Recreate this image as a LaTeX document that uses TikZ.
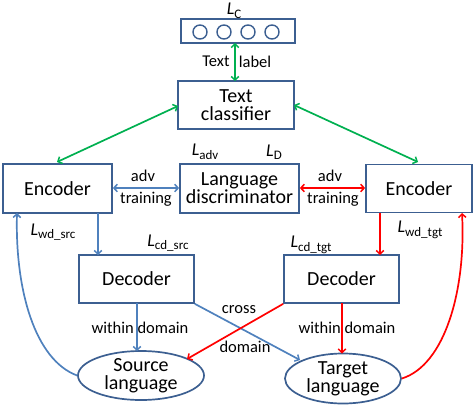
\documentclass[tikz,border=0pt]{standalone}
\usepackage{fontspec}
\setmainfont{Carlito}
\usetikzlibrary{arrows.meta,shapes.geometric}
\definecolor{boxc}{RGB}{60,95,145}
\definecolor{bluec}{RGB}{79,129,189}
\definecolor{greenc}{RGB}{0,176,80}
\definecolor{redc}{RGB}{255,0,0}
\newcommand{\Lsub}[1]{{\fontsize{18}{18}\selectfont\itshape L}{\fontsize{13}{13}\selectfont\raisebox{-3.5pt}{#1}}}
\tikzset{
  boxn/.style={draw=boxc,line width=1.7pt,rectangle,inner sep=0pt,align=center,font=\fontsize{20}{18}\selectfont},
  elln/.style={draw=boxc,line width=1.7pt,ellipse,inner sep=0pt,align=center,font=\fontsize{20}{18}\selectfont},
  lab/.style={inner sep=0pt,font=\fontsize{16.5}{16.5}\selectfont},
  lossl/.style={inner sep=0pt},
  tipc/.style={-{Straight Barb[length=3.5pt,width=7.5pt,line width=1.5pt]}},
  btip/.style={{Straight Barb[length=3.5pt,width=7.5pt,line width=1.5pt]}-{Straight Barb[length=3.5pt,width=7.5pt,line width=1.5pt]}},
  bl/.style={draw=bluec,line width=1.7pt},
  gr/.style={draw=greenc,line width=1.7pt},
  rd/.style={draw=redc,line width=1.7pt},
  circn/.style={draw=boxc,line width=1.4pt,circle,minimum size=14pt,inner sep=0pt}
}
\begin{document}
\begin{tikzpicture}[x=1pt,y=-1pt]
\useasboundingbox (0,0) rectangle (474,405);
% nodes
\node[boxn,minimum width=114pt,minimum height=24pt] (lc) at (238,31) {};
\node[circn] (c1) at (200,32) {};
\node[circn] (c2) at (224,32) {};
\node[circn] (c3) at (248,32) {};
\node[circn] (c4) at (272,32) {};
\node[lossl] (lcl) at (234,11) {\Lsub{C}};
\node[boxn,minimum width=116pt,minimum height=48pt] (tc) at (236,105) {Text\\classifier};
\node[boxn,minimum width=109pt,minimum height=49pt] (encl) at (57.5,188.5) {Encoder};
\node[boxn,minimum width=119pt,minimum height=49pt] (ld) at (239.5,188.5) {Language\\discriminator};
\node[boxn,minimum width=106pt,minimum height=48pt] (encr) at (419,188.5) {Encoder};
\node[boxn,minimum width=115pt,minimum height=48pt] (decl) at (136.5,279) {Decoder};
\node[boxn,minimum width=115pt,minimum height=48pt] (decr) at (341.5,279) {Decoder};
\node[elln,minimum width=126pt,minimum height=49pt] (src) at (141,375.5) {Source\\language};
\node[elln,minimum width=116pt,minimum height=50pt] (tgt) at (343,378.5) {Target\\language};
% loss labels
\node[lossl] (ladv) at (205,152) {\Lsub{adv}};
\node[lossl] (lD) at (274,152) {\Lsub{D}};
\node[lossl] (lwds) at (53,232) {\Lsub{wd\_src}};
\node[lossl] (lcds) at (168,243) {\Lsub{cd\_src}};
\node[lossl] (lcdt) at (311,245) {\Lsub{cd\_tgt}};
\node[lossl] (lwdt) at (420,230) {\Lsub{wd\_tgt}};
% text labels
\node[lab] (t1) at (216,61) {Text};
\node[lab] (t2) at (255,62) {label};
\node[lab] (a1) at (143,176) {adv};
\node[lab] (a2) at (146,199) {training};
\node[lab] (a3) at (330,176) {adv};
\node[lab] (a4) at (333,199) {training};
\node[lab] (w1) at (140,328) {within domain};
\node[lab] (w2) at (347,328) {within domain};
\node[lab] (x1) at (239,310) {cross};
\node[lab] (x2) at (245,347) {domain};
% connectors
\coordinate (lcb) at (235,43);
\coordinate (tct) at (235,81);
\draw[gr,btip] (lcb) -- (tct);
\coordinate (tcl) at (178,106);
\coordinate (tcr) at (294,105);
\coordinate (encltop) at (57,162);
\coordinate (encrtop) at (418,162);
\draw[gr,btip] (tcl) -- (encltop);
\draw[gr,btip] (tcr) -- (encrtop);
\draw[bl,btip] (encl.east |- 0,188) -- (ld.west |- 0,188);
\draw[rd,btip] (ld.east |- 0,188) -- (encr.west |- 0,188);
\coordinate (eLb) at (98,213);
\coordinate (dLt) at (98,255);
\draw[bl,tipc] (eLb) -- (dLt);
\coordinate (eRb) at (380,212.5);
\coordinate (dRt) at (380,255);
\draw[rd,tipc] (eRb) -- (dRt);
\coordinate (dLb) at (137,303);
\coordinate (sT) at (137,351);
\draw[bl,tipc] (dLb) -- (sT);
\coordinate (dRb) at (342,303);
\coordinate (tT) at (342,353.5);
\draw[rd,tipc] (dRb) -- (tT);
\draw[bl,tipc] (decl.south east) -- (300,360);
\draw[rd,tipc] (decr.south west) -- (187,359);
\coordinate (encLb2) at (17,213);
\coordinate (encRb2) at (462,213);
\draw[bl,tipc] (src.west) .. controls (35,360) and (15,290) .. (encLb2);
\draw[rd,tipc] (tgt.east) .. controls (445,365) and (466,290) .. (encRb2);
\end{tikzpicture}
\end{document}
